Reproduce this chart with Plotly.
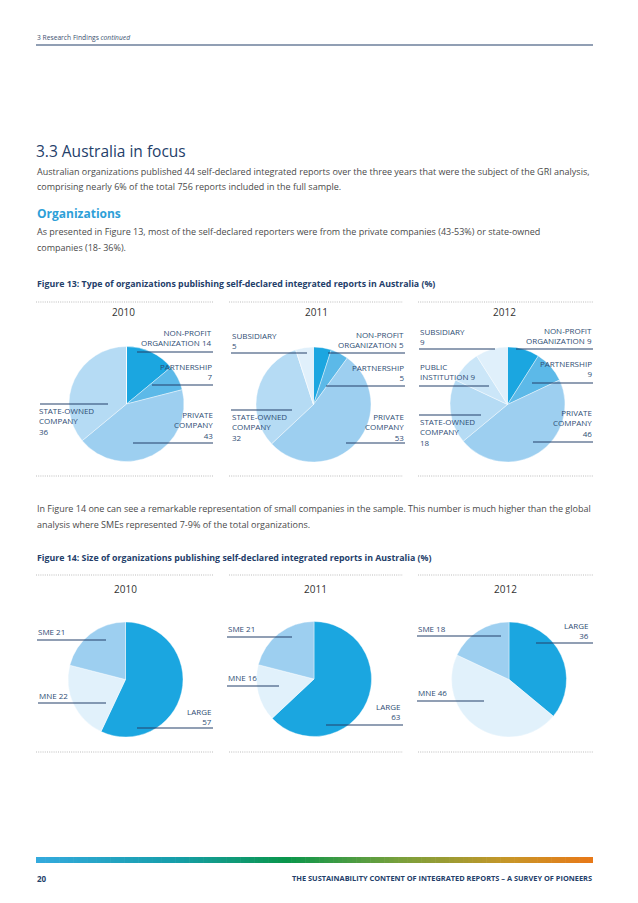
import plotly.graph_objects as go

W, H = 638, 903

# ---------------- data ----------------
org_types = ["Non-profit organization", "Partnership", "Private company",
             "State-owned company", "Public institution", "Subsidiary"]
org_2010 = [14, 7, 43, 36, 0, 0]
org_2011 = [5, 5, 53, 32, 0, 5]
org_2012 = [9, 9, 46, 18, 9, 9]
org_colors = ["#1ba6e0", "#5cb9e8", "#9dcff0", "#b5dbf4", "#cbe6f8", "#e0f0fb"]

size_types = ["Large", "MNE", "SME"]
size_2010 = [57, 22, 21]
size_2011 = [63, 16, 21]
size_2012 = [36, 46, 18]
size_colors = ["#1ba6e0", "#e1f1fb", "#9dcff0"]

years = ["2010", "2011", "2012"]

NAVY = "#24406a"
LABEL = "#2f4d74"
GRAY = "#4a4a4a"
FONT = "Open Sans"


def px(x):
    return x / W


def py(y):
    return 1 - y / H


fig = go.Figure()
shapes = []
annotations = []


def add_pie(labels, values, colors, cx, cy, r):
    fig.add_trace(go.Pie(
        labels=labels, values=values, sort=False, direction="clockwise",
        rotation=0, textinfo="none", hoverinfo="label+value",
        marker=dict(colors=colors, line=dict(color="white", width=0.4)),
        domain=dict(x=[px(cx - r), px(cx + r)], y=[py(cy + r), py(cy - r)]),
        showlegend=False))


def text(x, y, s, size=8, color=GRAY, anchor="left", bold=False, family=FONT, align=None):
    if bold:
        s = "<b>" + s + "</b>"
    annotations.append(dict(
        x=px(x), y=py(y), xref="paper", yref="paper", text=s, showarrow=False,
        xanchor=anchor, yanchor="middle", align=align or anchor if anchor != "center" else "center",
        font=dict(size=size, color=color, family=family), borderpad=0))


def hline(x0, x1, y, color=NAVY, width=1, dash="solid"):
    shapes.append(dict(type="line", xref="paper", yref="paper",
                       x0=px(x0), x1=px(x1), y0=py(y), y1=py(y),
                       line=dict(color=color, width=width, dash=dash)))


def label(template, value, side, tx, ty, ly, inner, outer=None):
    s = template.format(v=value)
    text(tx, ty - 2, s, size=8, color=LABEL, anchor=side, align=side)
    if outer is None:
        outer = tx
    hline(min(inner, outer), max(inner, outer), ly, color=NAVY, width=1.1)


# ---------------- page text ----------------
text(36, 38, "3 Research Findings <i>continued</i>", size=6.7, color="#3c5170")
hline(36, 593, 45, color=NAVY, width=1.2)

text(35, 151, "3.3 Australia in focus", size=15.5, color=NAVY)
text(36, 171, "Australian organizations published 44 self-declared integrated reports over the three years that were the subject of the GRI analysis,", size=9)
text(36, 186, "comprising nearly 6% of the total 756 reports included in the full sample.", size=9)
text(36, 214, "Organizations", size=12, color="#2e9fd8", bold=True)
text(36, 232, "As presented in Figure 13, most of the self-declared reporters were from the private companies (43-53%) or state-owned", size=9)
text(36, 248, "companies (18- 36%).", size=9)

text(36, 284, "Figure 13: Type of organizations publishing self-declared integrated reports in Australia (%)", size=8.8, color=NAVY, bold=True)

text(36, 509, "In Figure 14 one can see a remarkable representation of small companies in the sample. This number is much higher than the global", size=9)
text(36, 524, "analysis where SMEs represented 7-9% of the total organizations.", size=9)

text(36, 558, "Figure 14: Size of organizations publishing self-declared integrated reports in Australia (%)", size=8.8, color=NAVY, bold=True)

segs = [(36, 213), (229, 403), (418, 593)]
for (a, b) in segs:
    for y in (302, 476, 575, 752):
        hline(a, b, y, color="#a0a0a0", width=0.7, dash="1px,1.2px")

year_x13 = [124, 316, 504]
year_x14 = [125, 315, 505]
for i, yname in enumerate(years):
    text(year_x13[i], 312, yname, size=10, color="#333333", anchor="center")
    text(year_x14[i], 589, yname, size=10, color="#333333", anchor="center")

# ---------------- Figure 13 pies ----------------
R = 57.5
add_pie(org_types, org_2010, org_colors, 126.5, 404, R)
add_pie(org_types, org_2011, org_colors, 313.5, 404.5, R)
add_pie(org_types, org_2012, org_colors, 507.5, 404.5, R)

NP = "NON-PROFIT<br>ORGANIZATION {v}"
PA = "PARTNERSHIP<br>{v}"
PR = "PRIVATE<br>COMPANY<br>{v}"
SO = "STATE-OWNED<br>COMPANY<br>{v}"
SU = "SUBSIDIARY<br>{v}"
PI = "PUBLIC<br>INSTITUTION {v}"

# 2010
label(NP, org_2010[0], "right", 213, 339.5, 352, 137)
label(PA, org_2010[1], "right", 213, 373, 385, 152)
label(PR, org_2010[2], "right", 214, 426.5, 443, 133, 213)
label(SO, org_2010[3], "left", 38, 423, 404, 108, 40)
# 2011
label(SU, org_2011[5], "left", 231, 342, 353, 307)
label(NP, org_2011[0], "right", 405, 341.5, 353, 328)
label(PA, org_2011[1], "right", 405, 374.5, 386, 326)
label(PR, org_2011[2], "right", 405, 428.5, 443, 346)
label(SO, org_2011[3], "left", 231, 429, 410, 292)
# 2012
label(SU, org_2012[5], "left", 419, 338, 349, 495)
label(NP, org_2012[0], "right", 593, 337.5, 349, 516)
label(PA, org_2012[1], "right", 593, 370.5, 383, 532)
label(PI, org_2012[4], "left", 419, 373.5, 386, 489)
label(SO, org_2012[3], "left", 419, 434, 415, 481)
label(PR, org_2012[2], "right", 593, 424.5, 442, 533)

# ---------------- Figure 14 pies ----------------
add_pie(size_types, size_2010, size_colors, 125.5, 679.5, R)
add_pie(size_types, size_2011, size_colors, 314, 679, R)
add_pie(size_types, size_2012, size_colors, 509, 679.5, R)

SME = "SME {v}"
MNE = "MNE {v}"
LG = "LARGE<br>{v}"
label(SME, size_2010[2], "left", 37, 633, 640, 106)
label(MNE, size_2010[1], "left", 38, 697, 703, 106)
label(LG, size_2010[0], "right", 213, 718, 728, 137)
label(SME, size_2011[2], "left", 227, 630, 637, 292)
label(MNE, size_2011[1], "left", 227, 679, 686, 279)
label(LG, size_2011[0], "right", 402, 713.5, 725, 326, 403)
label(SME, size_2012[2], "left", 417, 630, 636, 501)
label(MNE, size_2012[1], "left", 417, 694, 701, 484)
label(LG, size_2012[0], "right", 590, 632, 643, 536, 593)

# ---------------- footer ----------------
stops = [(0.0, (52, 170, 222)), (0.25, (22, 158, 170)), (0.45, (10, 150, 75)),
         (0.65, (120, 160, 60)), (0.85, (200, 150, 40)), (1.0, (232, 120, 24))]


def grad(t):
    for (t0, c0), (t1, c1) in zip(stops[:-1], stops[1:]):
        if t0 <= t <= t1:
            f = (t - t0) / (t1 - t0)
            return "rgb(%d,%d,%d)" % tuple(round(c0[k] + f * (c1[k] - c0[k])) for k in range(3))
    return "rgb(232,120,24)"


N = 120
x0, x1 = 36, 593
for i in range(N):
    a = x0 + (x1 - x0) * i / N
    b = x0 + (x1 - x0) * (i + 1) / N + 0.6
    shapes.append(dict(type="rect", xref="paper", yref="paper",
                       x0=px(a), x1=px(min(b, x1)), y0=py(863), y1=py(857),
                       fillcolor=grad((i + 0.5) / N), line=dict(width=0)))

text(36, 878, "20", size=8, color=NAVY, bold=True)
text(593, 878, "THE SUSTAINABILITY CONTENT OF INTEGRATED REPORTS – A SURVEY OF PIONEERS",
     size=7.4, color=NAVY, anchor="right", bold=True)

fig.update_layout(
    width=W, height=H, margin=dict(l=0, r=0, t=0, b=0),
    paper_bgcolor="white", plot_bgcolor="white",
    shapes=shapes, annotations=annotations, showlegend=False,
    font=dict(family=FONT),
)

fig.write_html("out.html", config={"displayModeBar": False},
               post_script="document.body.style.margin='0';document.body.style.padding='0';document.body.style.overflow='hidden';")
